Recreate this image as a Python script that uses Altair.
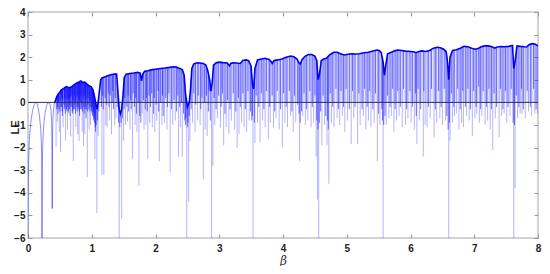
import altair as alt
import pandas as pd
import numpy as np

# ---- upper envelope of the Lyapunov exponent ----
env_b = [0.42,0.45,0.47,0.50,0.52,0.56,0.60,0.64,0.68,0.72,0.76,0.80,0.83,0.86,0.89,0.92,0.95,0.99,1.02,1.04,1.06,1.08,1.10,1.12,1.14,1.16,1.20,1.25,1.30,1.35,1.39,1.41,1.43,1.45,1.47,1.49,1.51,1.54,1.60,1.66,1.72,1.76,1.78,1.80,1.83,1.88,1.95,2.00,2.08,2.15,2.22,2.28,2.33,2.38,2.42,2.45,2.47,2.50,2.53,2.55,2.57,2.60,2.65,2.70,2.75,2.79,2.82,2.85,2.87,2.89,2.91,2.95,3.00,3.06,3.12,3.16,3.18,3.21,3.27,3.33,3.37,3.42,3.46,3.50,3.52,3.54,3.56,3.60,3.66,3.72,3.78,3.81,3.83,3.86,3.92,3.98,4.05,4.12,4.17,4.22,4.25,4.27,4.30,4.35,4.40,4.45,4.50,4.53,4.55,4.57,4.60,4.64,4.68,4.74,4.80,4.85,4.90,4.96,5.02,5.08,5.14,5.20,5.27,5.34,5.41,5.47,5.51,5.54,5.57,5.59,5.61,5.64,5.70,5.75,5.80,5.86,5.92,6.00,6.05,6.09,6.13,6.18,6.24,6.30,6.36,6.42,6.47,6.52,6.56,6.58,6.60,6.62,6.66,6.72,6.78,6.84,6.90,6.96,7.02,7.06,7.10,7.16,7.22,7.28,7.32,7.36,7.42,7.48,7.54,7.60,7.62,7.64,7.67,7.72,7.78,7.82,7.86,7.91,7.96,8.00]
env_v = [0.0,0.25,0.35,0.45,0.55,0.62,0.70,0.65,0.68,0.78,0.85,0.90,0.95,0.88,0.90,0.82,0.75,0.70,0.55,0.30,0.0,-0.3,0.0,0.5,1.0,1.08,1.12,1.18,1.22,1.25,1.25,0.5,-0.3,-0.5,-0.3,0.3,1.1,1.25,1.28,1.30,1.33,1.30,0.95,1.25,1.38,1.40,1.45,1.47,1.50,1.52,1.55,1.58,1.56,1.50,1.45,1.2,0.4,-0.2,0.0,0.6,1.5,1.70,1.75,1.74,1.72,1.65,1.40,1.0,0.5,0.9,1.65,1.75,1.78,1.76,1.75,1.62,1.72,1.75,1.74,1.72,1.85,1.88,1.85,1.6,0.8,0.6,1.5,1.88,1.92,1.95,1.90,1.82,1.72,1.85,1.88,1.92,2.0,2.05,2.02,1.92,1.75,1.70,1.90,2.05,2.12,2.12,2.05,1.85,1.0,1.2,1.85,1.92,1.95,2.12,2.22,2.22,2.15,2.10,2.13,2.15,2.14,2.15,2.20,2.22,2.27,2.32,2.30,2.20,1.8,1.2,1.6,2.15,2.22,2.28,2.32,2.30,2.27,2.25,2.24,2.20,2.25,2.28,2.25,2.30,2.40,2.44,2.42,2.35,2.25,1.8,1.0,2.0,2.30,2.33,2.40,2.48,2.46,2.40,2.35,2.38,2.45,2.50,2.50,2.46,2.40,2.45,2.47,2.46,2.48,2.52,1.5,1.8,2.50,2.48,2.46,2.45,2.55,2.60,2.57,2.50]

# ---- periodic-window arcs before chaos sets in ----
arc_b = [0.0,0.005,0.01,0.02,0.03,0.05,0.07,0.09,0.11,0.125,0.14,0.16,0.18,0.20,0.21,0.215,0.22,0.225,0.23,0.24,0.25,0.27,0.29,0.31,0.33,0.35,0.36,0.37,0.375,0.38,0.385,0.39,0.40,0.41,0.42]
arc_v = [-6,-3.5,-2.6,-1.8,-1.3,-0.75,-0.4,-0.15,-0.03,0.0,-0.05,-0.25,-0.6,-1.2,-1.8,-2.6,-6,-2.8,-2.0,-1.3,-0.9,-0.45,-0.15,-0.03,0.0,-0.15,-0.35,-0.8,-1.6,-4.7,-1.5,-0.8,-0.35,-0.1,0.0]

# ---- long downward spikes (beta, lowest LE) ----
deep_b = [0.44,0.46,0.49,0.51,0.55,0.59,0.62,0.64,0.67,0.71,0.75,0.78,0.80,0.85,0.87,0.89,0.93,0.96,0.98,1.02,1.05,1.08,1.10,1.16,1.19,1.22,1.24,1.28,1.31,1.36,1.38,1.43,1.47,1.50,1.53,1.56,1.60,1.64,1.68,1.71,1.74,1.79,1.82,1.85,1.88,1.91,1.95,1.99,2.02,2.06,2.10,2.14,2.18,2.23,2.27,2.31,2.36,2.39,2.42,2.49,2.52,2.54,2.58,2.62,2.66,2.70,2.75,2.78,2.81,2.88,2.90,2.93,2.97,3.02,3.07,3.11,3.15,3.19,3.24,3.28,3.31,3.35,3.39,3.43,3.47,3.53,3.56,3.60,3.64,3.68,3.72,3.77,3.80,3.85,3.89,3.94,3.99,4.03,4.07,4.12,4.16,4.20,4.26,4.31,4.35,4.39,4.44,4.48,4.52,4.54,4.56,4.61,4.65,4.69,4.72,4.76,4.80,4.85,4.89,4.93,4.97,5.01,5.07,5.11,5.17,5.21,5.26,5.30,5.34,5.38,5.43,5.48,5.52,5.57,5.62,5.66,5.70,5.74,5.78,5.82,5.87,5.92,5.96,6.01,6.06,6.10,6.14,6.20,6.23,6.26,6.31,6.37,6.41,6.46,6.50,6.55,6.60,6.62,6.66,6.69,6.72,6.76,6.80,6.83,6.88,6.92,6.97,7.01,7.04,7.08,7.12,7.17,7.21,7.25,7.29,7.33,7.39,7.43,7.47,7.51,7.56,7.62,7.64,7.68,7.72,7.75,7.80,7.85,7.90,7.95,7.99]
deep_v = [-1.95,-0.85,-1.3,-2.2,-1.1,-1.7,-1.2,-0.5,-1.5,-2.6,-1.1,-1.4,-1.7,-1.3,-1.9,-1.4,-3.3,-1.2,-1.0,-0.6,-2.5,-4.9,-1.5,-3.2,-3.2,-1.0,-1.1,-0.8,-1.4,-1.0,-0.7,-6,-5.15,-1.7,-1.0,-0.85,-1.2,-2.5,-1.0,-1.3,-3.7,-0.5,-1.2,-1.0,-2.5,-0.9,-1.1,-1.3,-0.8,-2.6,-1.0,-0.9,-1.2,-3.1,-1.0,-0.8,-2.4,-1.1,-2.4,-6,-4.4,-1.7,-0.9,-1.3,-0.8,-1.0,-3.4,-1.2,-1.5,-6,-2.8,-1.0,-0.7,-1.1,-1.9,-1.1,-1.4,-0.8,-1.2,-2.0,-1.4,-0.9,-1.1,-1.3,-0.8,-6,-1.8,-0.9,-1.75,-0.8,-1.1,-1.6,-0.9,-1.1,-0.7,-1.2,-2.0,-0.9,-1.1,-0.6,-1.3,-0.9,-2.6,-0.6,-1.0,-0.8,-1.1,-0.9,-2.4,-4.3,-6,-1.9,-1.0,-1.9,-3.6,-0.9,-1.1,-0.7,-1.0,-0.6,-1.3,-0.8,-1.85,-0.7,-1.85,-1.0,-0.6,-1.2,-0.8,-1.1,-0.9,-2.6,-1.0,-6,-1.0,-0.7,-0.6,-1.3,-0.8,-0.6,-1.1,-1.0,-0.7,-0.9,-1.2,-1.85,-0.8,-2.4,-1.0,-1.1,-0.7,-1.55,-0.9,-0.7,-1.0,-0.8,-6,-1.7,-0.9,-0.6,-0.5,-1.2,-0.9,-1.1,-0.6,-0.8,-1.5,-0.7,-0.5,-0.9,-0.6,-1.0,-0.8,-1.2,-2.1,-0.7,-1.55,-0.6,-0.5,-0.9,-0.6,-6,-3.8,-0.7,-0.5,-0.5,-0.7,-0.4,-0.6,-0.5,-0.5]

# ---- short dense spikes near the zero line (beta, lowest LE) ----
short_b = [0.45,0.455,0.465,0.47,0.475,0.48,0.485,0.50,0.505,0.515,0.525,0.53,0.535,0.54,0.545,0.565,0.57,0.575,0.58,0.585,0.595,0.605,0.61,0.615,0.625,0.63,0.635,0.645,0.65,0.655,0.66,0.665,0.675,0.685,0.69,0.695,0.70,0.705,0.715,0.725,0.73,0.735,0.74,0.745,0.755,0.765,0.77,0.775,0.785,0.79,0.795,0.805,0.81,0.815,0.82,0.825,0.835,0.84,0.845,0.855,0.865,0.875,0.88,0.885,0.895,0.90,0.905,0.91,0.915,0.925,0.935,0.94,0.945,0.955,0.965,0.97,0.975,0.985,0.995,1.00,1.005,1.01,1.015,1.025,1.03,1.035,1.04,1.045,1.055,1.06,1.07,1.09,1.11,1.15,1.17,1.18,1.21,1.23,1.26,1.27,1.29,1.32,1.33,1.34,1.37,1.40,1.42,1.44,1.46,1.48,1.51,1.52,1.55,1.57,1.58,1.61,1.62,1.65,1.67,1.69,1.70,1.73,1.75,1.77,1.81,1.84,1.86,1.87,1.90,1.92,1.94,1.97,1.98,2.01,2.04,2.05,2.08,2.11,2.12,2.16,2.19,2.21,2.25,2.29,2.33,2.35,2.38,2.41,2.44,2.46,2.47,2.48,2.50,2.51,2.53,2.56,2.60,2.63,2.67,2.71,2.73,2.77,2.80,2.83,2.84,2.86,2.92,2.95,2.99,3.03,3.05,3.09,3.13,3.17,3.22,3.26,3.30,3.33,3.37,3.41,3.45,3.49,3.51,3.52,3.55,3.58,3.62,3.66,3.70,3.74,3.79,3.83,3.87,3.91,3.96,4.01,4.05,4.10,4.14,4.18,4.23,4.25,4.27,4.29,4.33,4.37,4.42,4.46,4.50,4.53,4.55,4.57,4.59,4.63,4.67,4.70,4.71,4.74,4.78,4.83,4.87,4.91,4.95,4.99,5.04,5.09,5.13,5.19,5.24,5.28,5.32,5.36,5.41,5.45,5.50,5.55,5.56,5.58,5.60,5.64,5.68,5.72,5.76,5.80,5.84,5.89,5.94,5.99,6.03,6.08,6.09,6.12,6.16,6.21,6.28,6.33,6.39,6.44,6.48,6.53,6.57,6.59,6.61,6.64,6.68,6.74,6.78,6.82,6.86,6.90,6.94,6.99,7.03,7.07,7.10,7.14,7.19,7.23,7.27,7.31,7.35,7.41,7.45,7.49,7.53,7.58,7.61,7.63,7.66,7.70,7.74,7.77,7.83,7.88,7.93,7.97]
short_v = [-0.3,0.1,-0.2,-0.5,0.0,0.0,-0.3,-0.4,0.1,-0.2,0.2,-0.2,-0.4,-0.6,0.1,-0.1,-0.3,0.2,-0.2,-0.5,0.1,-0.3,-0.4,0.2,-0.2,0.1,-0.4,0.2,-0.3,-0.1,-0.6,0.2,-0.2,0.3,-0.2,-0.4,-0.5,0.1,-0.3,0.3,-0.3,-0.1,0.0,-0.5,0.2,-0.2,-0.4,0.3,-0.3,-0.2,0.1,-0.4,-0.6,0.2,0.0,-0.3,0.3,-0.3,-0.1,-0.4,0.2,-0.2,-0.5,0.3,-0.3,-0.2,0.1,-0.7,-0.3,0.2,-0.4,-0.1,0.2,-0.3,0.1,-0.4,-0.2,0.0,-0.4,-0.3,-0.5,-0.2,-0.6,-0.4,-0.8,-0.7,-0.5,-0.9,-1.1,-1.3,-1.0,-0.8,-0.4,-0.2,0.3,-0.3,0.2,-0.1,0.4,-0.2,0.3,0.0,0.5,-0.3,0.2,-0.2,-0.9,-1.1,-0.9,-0.7,-0.3,0.2,-0.2,0.3,-0.4,0.1,-0.3,0.4,-0.2,0.2,-0.5,0.0,-0.6,-0.9,0.1,-0.3,0.2,-0.4,0.3,-0.2,0.4,-0.5,0.2,-0.1,0.5,-0.4,0.0,0.3,-0.6,0.2,-0.2,0.4,-0.3,0.1,-0.4,0.3,-0.2,0.0,-0.5,-0.8,-1.0,-0.7,-1.1,-0.9,-0.6,-0.3,0.4,-0.1,0.3,-0.3,0.2,0.0,0.3,-0.4,0.5,-0.8,0.2,-0.3,0.3,-0.2,0.4,-0.5,0.1,-0.3,0.4,-0.4,0.2,-0.2,0.4,-0.3,0.5,-0.4,-0.8,-0.6,-0.9,0.3,-0.2,0.4,-0.3,0.5,-0.2,0.3,-0.4,0.5,-0.3,0.4,-0.2,0.5,-0.4,0.3,-0.1,-0.5,-0.9,-0.4,0.4,-0.3,0.5,-0.2,0.3,-0.8,-1.2,-0.9,-0.4,0.3,-0.6,-0.8,-1.2,0.4,-0.2,0.6,-0.3,0.5,-0.2,0.6,-0.3,0.5,-0.2,0.4,-0.3,0.6,-0.2,0.5,-0.3,0.4,-0.5,-0.3,-0.8,-1.0,-0.6,0.3,-0.2,0.6,-0.3,0.5,-0.2,0.6,-0.3,0.5,-0.2,0.4,-0.6,0.6,-0.3,0.5,-0.2,0.6,-0.3,0.5,-0.2,0.6,-0.6,-1.2,-0.9,0.4,-0.2,0.6,-0.3,0.5,-0.2,0.6,-0.3,0.5,-0.2,0.7,-0.3,0.5,-0.2,0.6,-0.3,0.4,-0.2,0.6,-0.3,0.5,-0.2,0.6,-0.9,-1.0,0.3,-0.2,0.6,-0.3,0.5,-0.2,0.6,-0.3]

x_ticks = [0, 1, 2, 3, 4, 5, 6, 7, 8]
y_ticks = [-6, -5, -4, -3, -2, -1, 0, 1, 2, 3, 4]

env = pd.DataFrame({"b": env_b, "v": env_v})
arc = pd.DataFrame({"b": arc_b, "v": arc_v})
deep = pd.DataFrame({"b": deep_b, "lo": deep_v})
deep["hi"] = np.interp(deep["b"], env_b, env_v)
short = pd.DataFrame({"b": short_b, "lo": short_v})
short["hi"] = np.interp(short["b"], env_b, env_v)
short["lo"] = np.minimum(short["lo"], short["hi"])
zero = pd.DataFrame({"b": [0, 8], "v": [0, 0]})

FONT = "Liberation Sans"
xs = alt.Scale(domain=[0, 8], nice=False, zero=False)
ys = alt.Scale(domain=[-6, 4], nice=False, zero=False)

ax_bottom = alt.Axis(orient="bottom", values=x_ticks, domain=False, grid=False,
                     tickSize=4, offset=-4, tickColor="#999", labelPadding=5,
                     labelFont=FONT, labelFontWeight="bold", labelFontSize=10,
                     labelColor="#222", labelFlush=False, title="β",
                     titleFont="DejaVu Serif", titleFontStyle="italic",
                     titleFontWeight="normal", titleFontSize=12, titleColor="#333",
                     titlePadding=2)
ax_left = alt.Axis(orient="left", values=y_ticks, domain=False, grid=False,
                   tickSize=4, offset=-4, tickColor="#999", labelPadding=3,
                   labelFont=FONT, labelFontWeight="bold", labelFontSize=10,
                   labelColor="#222", labelFlush=False, title="LE",
                   titleFont=FONT, titleFontWeight="bold", titleFontSize=11,
                   titleColor="#222", titleX=-17, titleY=115,
                   titleBaseline="middle", titleAlign="center")
ax_top = alt.Axis(orient="top", values=x_ticks, domain=False, grid=False,
                  tickSize=4, offset=-4, tickColor="#999", labels=False, title=None)
ax_right = alt.Axis(orient="right", values=y_ticks, domain=False, grid=False,
                    tickSize=4, offset=-4, tickColor="#999", labels=False, title=None)

band = alt.Chart(env).mark_area(color="#0000ff", opacity=0.1, clip=True).encode(
    x=alt.X("b:Q", scale=xs, axis=ax_top),
    y=alt.Y("v:Q", scale=ys, axis=ax_right),
    y2=alt.datum(0),
)

deep_rules = alt.Chart(deep).mark_rule(color="#0000ff", opacity=0.3, strokeWidth=1, clip=True).encode(
    x=alt.X("b:Q", scale=xs, axis=None),
    y=alt.Y("lo:Q", scale=ys, axis=None),
    y2="hi:Q",
)

short_rules = alt.Chart(short).mark_rule(color="#0000ff", opacity=0.55, strokeWidth=1, clip=True).encode(
    x=alt.X("b:Q", scale=xs, axis=None),
    y=alt.Y("lo:Q", scale=ys, axis=None),
    y2="hi:Q",
)

arc_line = alt.Chart(arc).mark_line(color="#0000ff", opacity=0.45, strokeWidth=1, clip=True).encode(
    x=alt.X("b:Q", scale=xs, axis=None),
    y=alt.Y("v:Q", scale=ys, axis=None),
)

zero_line = alt.Chart(zero).mark_line(color="#333333", strokeWidth=1).encode(
    x=alt.X("b:Q", scale=xs, axis=None),
    y=alt.Y("v:Q", scale=ys, axis=None),
)

env_line = alt.Chart(env).mark_line(color="#0000ee", strokeWidth=1.6, clip=True).encode(
    x=alt.X("b:Q", scale=xs, axis=ax_bottom),
    y=alt.Y("v:Q", scale=ys, axis=ax_left),
)

chart = alt.layer(band, deep_rules, short_rules, arc_line, zero_line, env_line).resolve_axis(
    x="independent", y="independent"
).properties(
    width=510, height=226,
    autosize=alt.AutoSizeParams(type="none"),
    padding={"left": 20, "top": 4, "right": 4, "bottom": 28},
).configure_view(stroke="#c4c4c4", strokeWidth=1.5)

chart.save("out.html", embed_options={"renderer": "svg", "actions": False})
